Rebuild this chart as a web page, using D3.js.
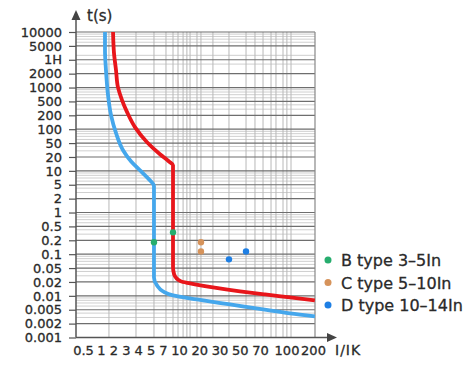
<!DOCTYPE html>
<html>
<head>
<meta charset="utf-8">
<script src="https://cdn.jsdelivr.net/npm/d3@7"></script>
<style>
  body { margin: 0; background: #fff; }
  svg { display: block; font-family: "DejaVu Sans", sans-serif; }
  text { stroke: #2a2a2a; stroke-width: 0.3px; }
</style>
</head>
<body>
<svg id="chart" width="474" height="367"></svg>
<script>
// tick values and labels (1H = 3600 s)
var yVals = [10000, 5000, 3600, 2000, 1000, 500, 200, 100, 50, 20, 10, 5, 2, 1,
             0.5, 0.2, 0.1, 0.05, 0.02, 0.01, 0.005, 0.002, 0.001];
var yLabels = ["10000", "5000", "1H", "2000", "1000", "500", "200", "100", "50", "20", "10", "5", "2", "1",
               "0.5", "0.2", "0.1", "0.05", "0.02", "0.01", "0.005", "0.002", "0.001"];
var xVals = [0.5, 1, 2, 3, 4, 5, 7, 10, 20, 30, 50, 70, 100, 200];
var xLabels = ["0.5", "1", "2", "3", "4", "5", "7", "10", "20", "30", "50", "70", "100", "200"];

// vertical grid lines, in I/IK
var gridX = [1.56, 3.8, 5.48, 7.48, 8.75, 9.78, 11.5, 13.1, 14.6, 18.5, 20.7, 26.3, 38.1,
             55.5, 64.4, 72.9, 81.2, 86.8, 95.4, 101, 112.5];

// tripping curves [I/IK, t(s)]
var curveUpper = [[1.96, 10000], [2.04, 4200], [2.18, 2300], [2.32, 1020], [2.65, 534], [3.09, 247],
                  [3.71, 111], [4.69, 52.3], [6.45, 24], [8.0, 16], [8.75, 13.3], [8.75, 0.0518],
                  [8.97, 0.033], [10.7, 0.0207], [14.6, 0.0186], [26.3, 0.0152], [50.2, 0.0125],
                  [74.9, 0.0107], [109.6, 0.00924], [210, 0.00795]];
var curveLower = [[1.25, 10000], [1.25, 4500], [1.32, 2330], [1.48, 690], [1.75, 202], [2.18, 82],
                  [2.74, 31.3], [3.38, 16.2], [4.13, 10.3], [4.77, 6.92], [5.48, 4.53], [5.48, 0.027],
                  [5.95, 0.0168], [7, 0.0125], [8.75, 0.0102], [18.5, 0.00836], [39.1, 0.00651],
                  [72.9, 0.00507], [109.6, 0.00391], [210, 0.00321]];

// marked points per type
var types = ["B type 3\u20135In", "C type 5\u201310In", "D type 10\u201314In"];
var typeColors = ["#27ad6e", "#d6935b", "#1e7fe4"];
var points = [
  {type: 0, i: 5.48, t: 0.181}, {type: 0, i: 8.75, t: 0.338},
  {type: 1, i: 20.7, t: 0.181}, {type: 1, i: 20.7, t: 0.115},
  {type: 2, i: 38.1, t: 0.0772}, {type: 2, i: 55.5, t: 0.115}
];

var svg = d3.select("#chart");
var pLeft = 76, pRight = 315, pTop = 32, pBottom = 337.5;

// value -> tick index (log, piecewise) -> pixel
var xIdx = d3.scaleLog().domain(xVals).range(d3.range(xVals.length));
var xPos = d3.scaleLinear().domain([0, 1, 6, 7, 11, 13]).range([83, 101, 163, 179, 260, 313]);
var yIdx = d3.scaleLog().domain(yVals).range(d3.range(yVals.length));
var yPos = d3.scaleLinear().domain([0, yVals.length - 1]).range([pTop, pBottom]);
var x = function(v){ return xPos(xIdx(v)); };
var y = function(v){ return yPos(yIdx(v)); };

// minor horizontal lines: 1..9 x 10^k that are not labelled
var minorY = [];
for (var e = -3; e < 4; e++) {
  for (var k = 1; k < 10; k++) {
    var v = +(k * Math.pow(10, e)).toPrecision(3);
    if (yVals.indexOf(v) < 0) minorY.push(v);
  }
}

var grid = svg.append("g");
grid.selectAll(".minor").data(minorY).enter().append("line")
  .attr("x1", pLeft).attr("x2", pRight)
  .attr("y1", function(d){ return y(d); }).attr("y2", function(d){ return y(d); })
  .attr("stroke", "#cfcfcf").attr("stroke-width", 1);

grid.selectAll(".vgrid").data(gridX).enter().append("line")
  .attr("x1", function(d){ return x(d); }).attr("x2", function(d){ return x(d); })
  .attr("y1", pTop).attr("y2", pBottom)
  .attr("stroke", "#b8b8b8").attr("stroke-width", 1);

grid.selectAll(".major").data(yVals).enter().append("line")
  .attr("x1", pLeft).attr("x2", pRight)
  .attr("y1", function(d){ return y(d); }).attr("y2", function(d){ return y(d); })
  .attr("stroke", "#6e6e6e").attr("stroke-width", 1.2);

grid.append("line")
  .attr("x1", pRight).attr("x2", pRight).attr("y1", pTop).attr("y2", pBottom)
  .attr("stroke", "#888").attr("stroke-width", 1.2);

// axes
var yPoint = d3.scalePoint().domain(yLabels).range([pTop, pBottom]);
var yAxis = svg.append("g").attr("transform", "translate(" + pLeft + ",0)")
  .call(d3.axisLeft(yPoint).tickSize(7).tickPadding(7));
yAxis.select(".domain").remove();
yAxis.selectAll("line").attr("stroke", "#555").attr("stroke-width", 1.2);
yAxis.selectAll("text").style("font-size", "13px").attr("fill", "#2a2a2a")
  .style("font-family", "DejaVu Sans");

var xAxis = svg.append("g").attr("transform", "translate(0," + (pBottom + 5) + ")")
  .call(d3.axisBottom(xPos).tickValues(d3.range(xVals.length))
    .tickFormat(function(i){ return xLabels[i]; }).tickSize(0).tickPadding(3));
xAxis.select(".domain").remove();
xAxis.selectAll("text").style("font-size", "13px").attr("fill", "#2a2a2a")
  .style("font-family", "DejaVu Sans");

var axisColor = "#555";
svg.append("line").attr("x1", pLeft).attr("x2", pLeft).attr("y1", pBottom).attr("y2", 18)
  .attr("stroke", axisColor).attr("stroke-width", 1.5);
svg.append("path").attr("d", "M76,10L71.5,20L80.5,20Z").attr("fill", "#444");
svg.append("line").attr("x1", pLeft).attr("x2", 330).attr("y1", pBottom).attr("y2", pBottom)
  .attr("stroke", axisColor).attr("stroke-width", 1.5);
svg.append("path").attr("d", "M337,337.5L327,333L327,342Z").attr("fill", "#444");

svg.append("text").attr("x", 87).attr("y", 21).style("font-size", "15px").attr("fill", "#2a2a2a").text("t(s)");
svg.append("text").attr("x", 335).attr("y", 355).style("font-size", "14px").attr("fill", "#2a2a2a")
  .attr("letter-spacing", 1).text("I/IK");

// curves
var line = d3.line()
  .x(function(d){ return x(d[0]); })
  .y(function(d){ return y(d[1]); })
  .curve(d3.curveMonotoneY);

svg.append("clipPath").attr("id", "plot").append("rect")
  .attr("x", pLeft).attr("y", pTop).attr("width", pRight - pLeft).attr("height", pBottom - pTop);

var curves = svg.append("g").attr("clip-path", "url(#plot)");
curves.append("path").datum(curveLower).attr("d", line)
  .attr("fill", "none").attr("stroke", "#45a7ec").attr("stroke-width", 3.8);
curves.append("path").datum(curveUpper).attr("d", line)
  .attr("fill", "none").attr("stroke", "#e8161b").attr("stroke-width", 3.8);

svg.selectAll(".pt").data(points).enter().append("circle")
  .attr("cx", function(d){ return x(d.i); })
  .attr("cy", function(d){ return y(d.t); })
  .attr("r", 3.2)
  .attr("fill", function(d){ return typeColors[d.type]; });

// legend
var legend = svg.selectAll(".lg").data(types).enter().append("g")
  .attr("transform", function(d, i){ return "translate(328," + (260 + i * 22.5) + ")"; });
legend.append("circle").attr("r", 3.5).attr("fill", function(d, i){ return typeColors[i]; });
legend.append("text").attr("x", 13).attr("y", 6).style("font-size", "16px").attr("fill", "#2a2a2a")
  .text(function(d){ return d; });
</script>
</body>
</html>
